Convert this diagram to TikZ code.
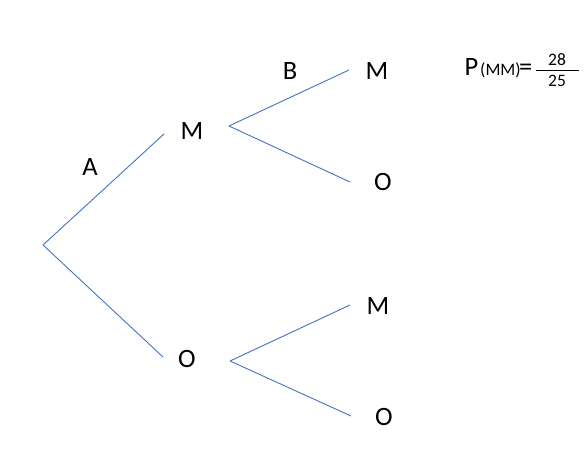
\documentclass[tikz,border=0pt]{standalone}
\usepackage{fontspec}
\setmainfont{Carlito}
\definecolor{lineblue}{HTML}{4472C4}
\begin{document}
\begin{tikzpicture}[x=1pt,y=-1pt,
  branch/.style={draw=lineblue,line width=0.9pt},
  lbl/.style={inner sep=0pt,anchor=base,font=\fontsize{26.5}{31}\selectfont},
  small/.style={inner sep=0pt,anchor=base,font=\fontsize{17.5}{21}\selectfont}]
\useasboundingbox (0,0) rectangle (588,454);
\fill[white] (0,0) rectangle (588,454);
% branch end points
\coordinate (root) at (43,245);
\coordinate (aM) at (164,134);
\coordinate (aO) at (163,357);
\coordinate (mS) at (229,126);
\coordinate (mM) at (349,70);
\coordinate (mO) at (350,182);
\coordinate (oS) at (230,361);
\coordinate (oM) at (350,305);
\coordinate (oO) at (351,416);
% branches
\draw[branch] (root) -- (aM);
\draw[branch] (root) -- (aO);
\draw[branch] (mS) -- (mM);
\draw[branch] (mS) -- (mO);
\draw[branch] (oS) -- (oM);
\draw[branch] (oS) -- (oO);
% labels
\node[lbl] (labA) at (90,176) {A};
\node[lbl] (labB) at (290,80) {B};
\node[lbl] (midM) at (192,140) {M};
\node[lbl] (midO) at (187,367) {O};
\node[lbl] (leafMM) at (377,80) {M};
\node[lbl] (leafMO) at (383,191) {O};
\node[lbl] (leafOM) at (378,314) {M};
\node[lbl] (leafOO) at (384,425) {O};
% formula
\node[lbl,anchor=base west] (fP) at (464.5,76) {P};
\node[small,anchor=base west] (fsub) at (480,76) {(MM)};
\node[lbl,anchor=base west] (feq) at (519,76) {=};
\coordinate (barL) at (536,70);
\coordinate (barR) at (579,70);
\draw[line width=0.8pt] (barL) -- (barR);
\node[small] (fnum) at (557,66) {28};
\node[small] (fden) at (557,86.5) {25};
\end{tikzpicture}
\end{document}
